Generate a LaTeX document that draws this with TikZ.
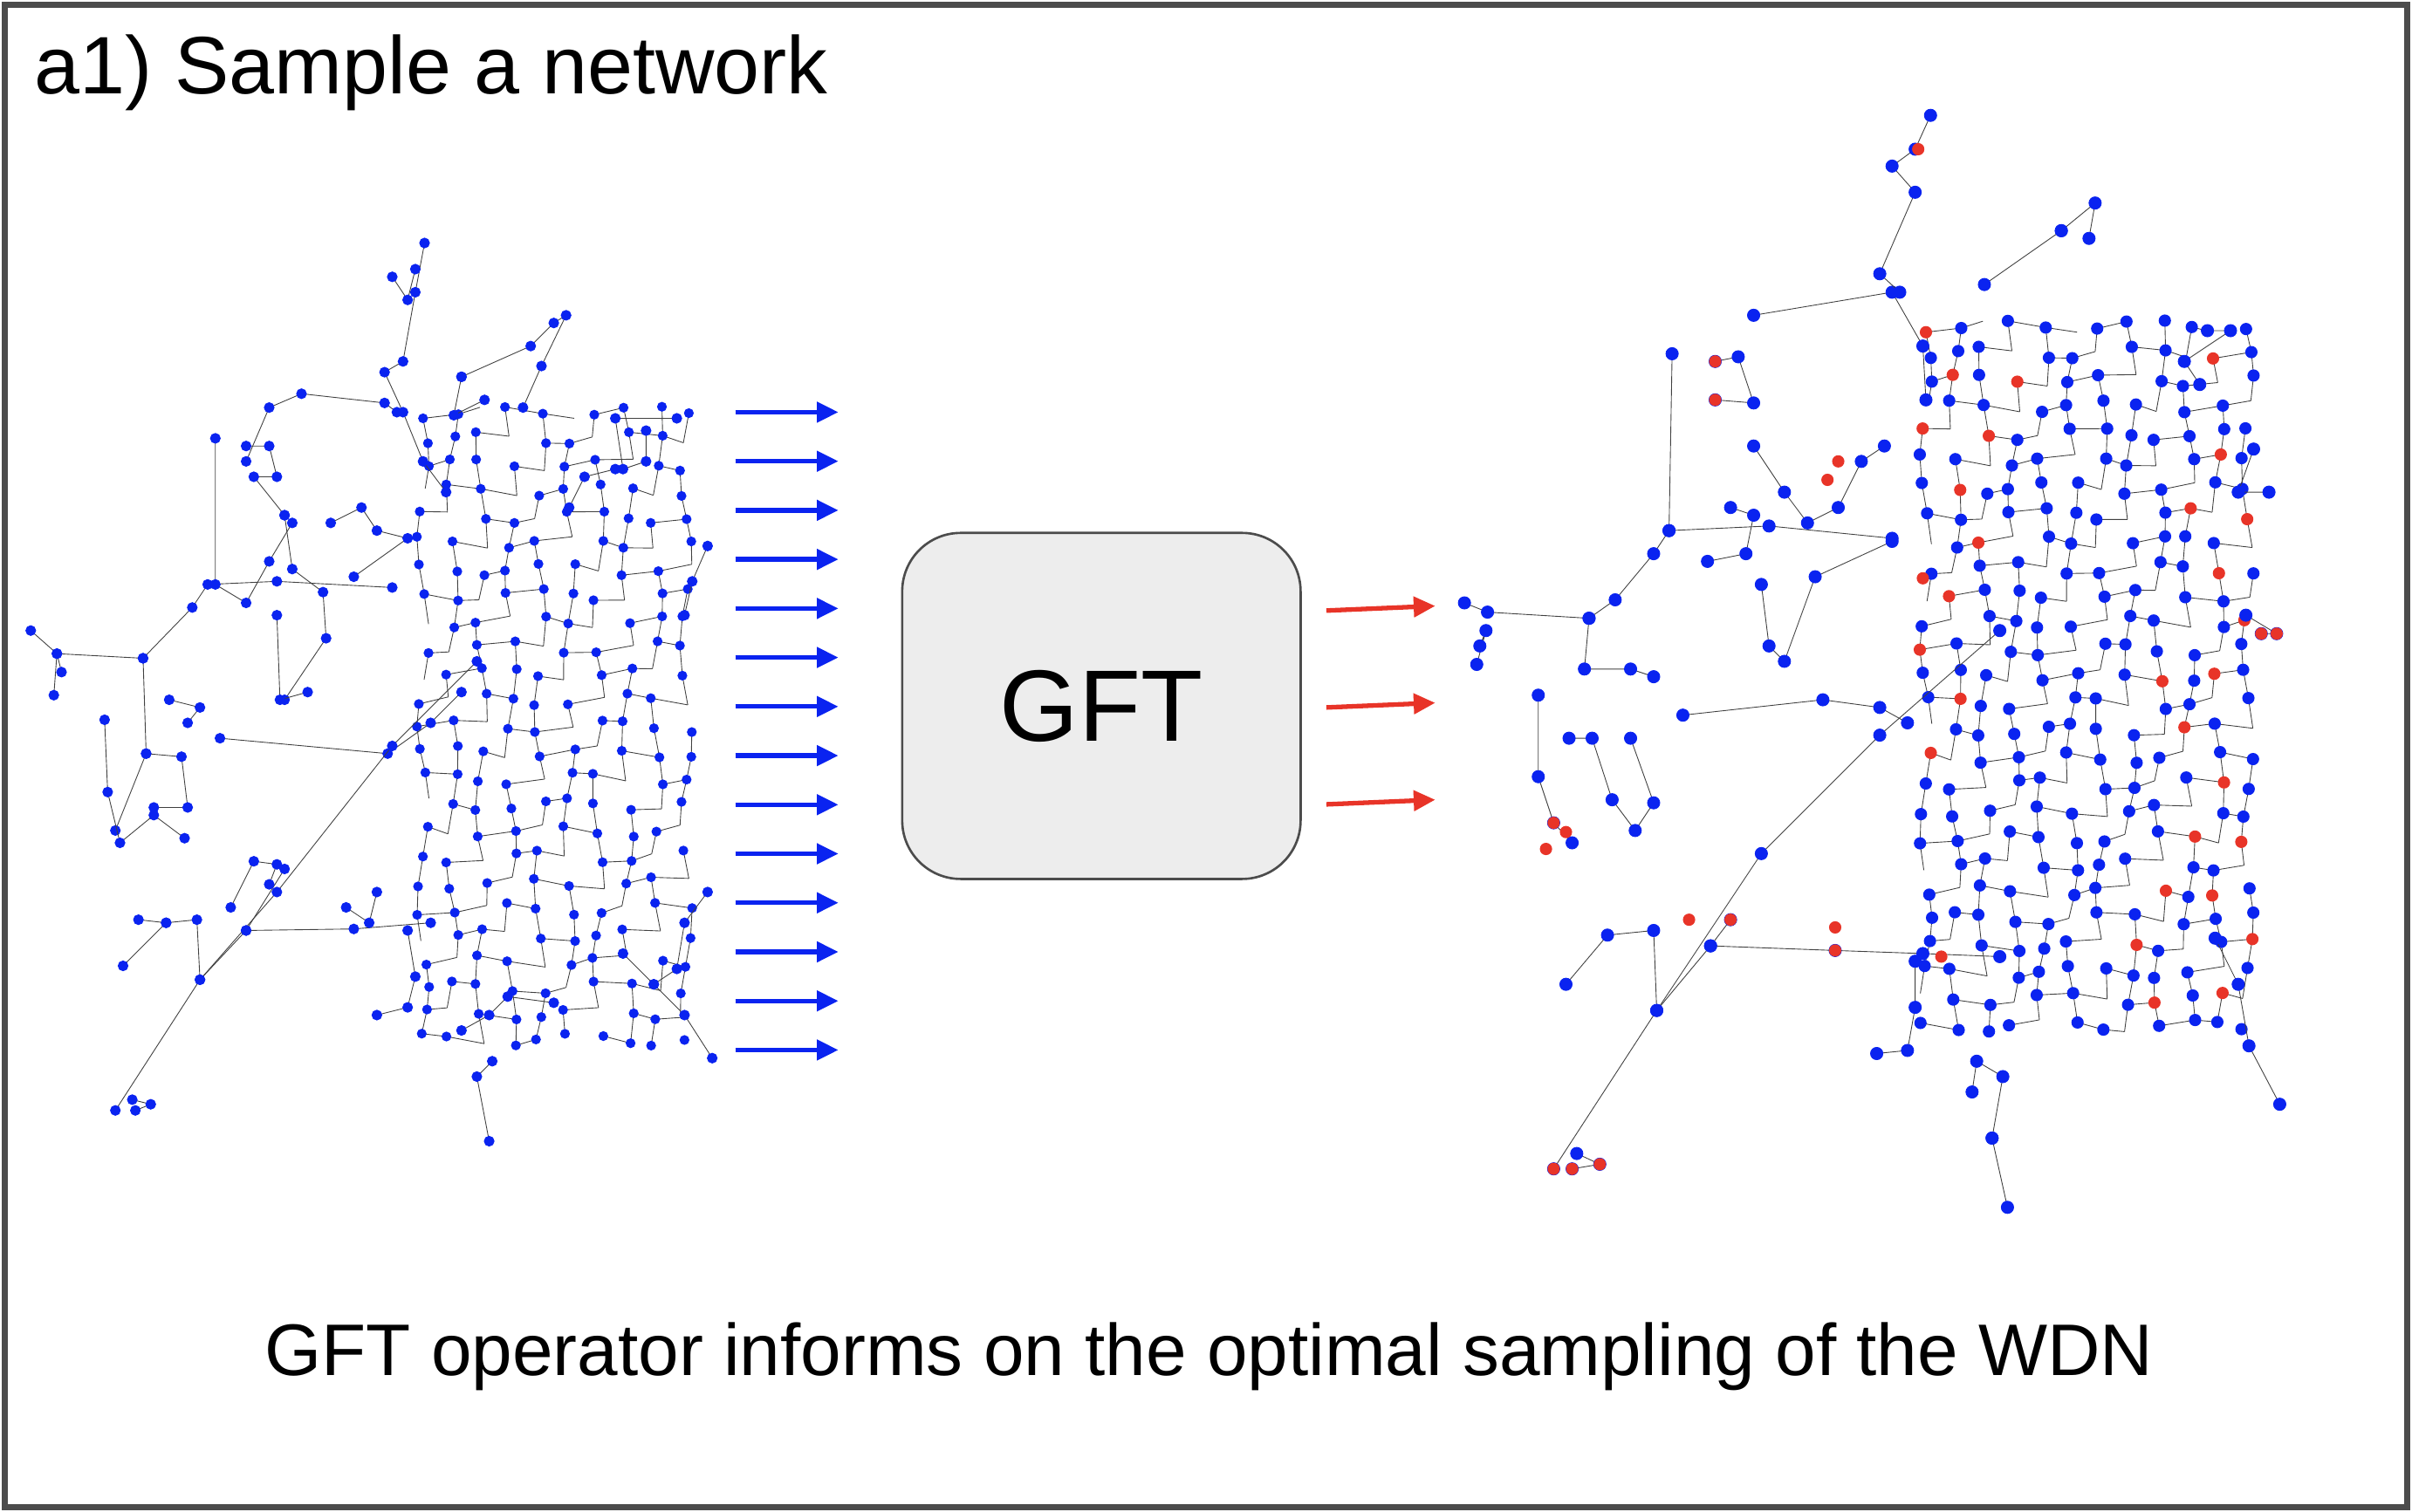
\documentclass[tikz,border=0pt]{standalone}
\usepackage{fontspec}
\setmainfont{Liberation Sans}
\usetikzlibrary{arrows.meta}

\definecolor{netblue}{RGB}{10,35,240}
\definecolor{netred}{RGB}{232,52,40}

\tikzset{
  frame/.style = {draw=black!70, line width=4pt},
  gftbox/.style = {draw=black!70, line width=1.5pt, fill=black!7, rounded corners=38pt,
                   minimum width=259pt, minimum height=225pt, font=\fontsize{66}{70}\selectfont},
  wire/.style = {draw=black!75, line width=0.5pt},
  lnode/.style = {mark=*, mark size=3.2pt, mark options={draw=netblue, fill=netblue}},
  rnode/.style = {mark=*, mark size=4pt, mark options={draw=netblue, fill=netblue}},
  bluearr/.style = {draw=netblue, line width=3pt, -{Triangle[length=14pt,width=13pt]}},
  redarr/.style = {draw=netred, line width=3pt, -{Triangle[length=14pt,width=13pt]}}
}

\begin{document}
\begin{tikzpicture}[x=1pt, y=-1pt]
\useasboundingbox (0,0) rectangle (1568,983);
\draw[frame] (3,3) rectangle (1565,980);

% titles
\node[anchor=west, font=\fontsize{53}{57}\selectfont] (title) at (19,47) {a1) Sample a network};
\node[font=\fontsize{47.5}{52}\selectfont] (caption) at (786,882) {GFT operator informs on the optimal sampling of the WDN};

% operator
\node[gftbox] (gft) at (716,459) {GFT};

% input arrows
\foreach \k in {0,...,13}
  \draw[bluearr] (478,{268+31.9*\k}) coordinate (in\k) -- ++(67,0);
% output arrows
\foreach \y [count=\k] in {397,460,523} {
  \coordinate (out\k) at (933,{\y-3});
  \draw[redarr] (gft.east |- 0,\y) ++(16,0) -- (out\k);
}

% left network, dense core
\foreach \i in {0,...,9}
  \foreach \j in {0,...,24} {
    \pgfmathsetmacro\xa{275+19*\i+4*sin(97*\i+53*\j)}
    \pgfmathsetmacro\ya{268+17*\j+4*cos(71*\i+37*\j)}
    \pgfmathsetmacro\xb{275+19*(\i+1)+4*sin(97*(\i+1)+53*\j)}
    \pgfmathsetmacro\yb{268+17*\j+4*cos(71*(\i+1)+37*\j)}
    \pgfmathsetmacro\xc{275+19*\i+4*sin(97*\i+53*(\j+1))}
    \pgfmathsetmacro\yc{268+17*(\j+1)+4*cos(71*\i+37*(\j+1))}
    \pgfmathsetmacro\keep{sin(131*\i+211*\j)}
    \ifdim\keep pt>-0.7pt
      \ifnum\i<9 \ifdim\keep pt>-0.1pt \draw[wire] (\xa,\ya) -- (\xb,\yb); \fi\fi
      \ifnum\j<24 \draw[wire] (\xa,\ya) -- (\xc,\yc); \fi
      \fill[netblue] (\xa,\ya) circle (3.2pt);
    \fi
  }
% left network, branches
\draw[wire] plot[lnode] coordinates {(20,410) (37,425) (93,428) (95,490) (75,540)};
\draw[wire] plot[lnode] coordinates {(35,452) (37,425) (40,437)};
\draw[wire] plot[lnode] coordinates {(68,468) (70,515) (78,548) (100,530) (120,545)};
\draw[wire] plot[lnode] coordinates {(95,490) (118,492) (122,525) (100,525)};
\draw[wire] plot[lnode] coordinates {(93,428) (125,395) (135,380) (180,378) (255,382)};
\draw[wire] plot[lnode] coordinates {(140,285) (140,380) (160,392) (175,365) (190,340)};
\draw[wire] plot[lnode] coordinates {(160,290) (175,290) (180,310) (165,310) (185,335)};
\draw[wire] plot[lnode] coordinates {(160,300) (175,265) (196,256) (250,262) (258,268)};
\draw[wire] plot[lnode] coordinates {(185,335) (190,370) (210,385) (212,415) (185,455)};
\draw[wire] plot[lnode] coordinates {(180,400) (182,455) (200,450)};
\draw[wire] plot[lnode] coordinates {(215,340) (235,330) (245,345) (265,350) (230,375)};
\draw[wire] plot[lnode] coordinates {(110,455) (130,460) (122,470)};
\draw[wire] plot[lnode] coordinates {(143,480) (252,490) (280,470) (300,450)};
\draw[wire] plot[lnode] coordinates {(80,628) (108,600) (128,598) (130,637) (160,605) (185,565)};
\draw[wire] plot[lnode] coordinates {(90,598) (108,600)};
\draw[wire] plot[lnode] coordinates {(75,722) (130,637) (180,580) (255,485) (310,430)};
\draw[wire] plot[lnode] coordinates {(86,715) (98,718) (88,722)};
\draw[wire] plot[lnode] coordinates {(160,605) (230,604) (280,600)};
\draw[wire] plot[lnode] coordinates {(150,590) (165,560) (180,562) (175,575)};
\draw[wire] plot[lnode] coordinates {(276,158) (270,190) (262,235) (250,242) (262,268) (275,300) (290,320)};
\draw[wire] plot[lnode] coordinates {(255,180) (265,195) (270,175)};
\draw[wire] plot[lnode] coordinates {(300,245) (345,225) (360,210) (368,205) (352,238) (340,265)};
\draw[wire] plot[lnode] coordinates {(300,245) (295,270) (315,260)};
\draw[wire] plot[lnode] coordinates {(440,272) (400,272) (405,305) (420,300) (420,280)};
\draw[wire] plot[lnode] coordinates {(400,305) (380,310) (370,330)};
\draw[wire] plot[lnode] coordinates {(425,640) (445,660) (463,688)};
\draw[wire] plot[lnode] coordinates {(460,580) (445,600) (440,630) (425,640) (405,620)};
\draw[wire] plot[lnode] coordinates {(460,355) (450,378) (445,400)};
\draw[wire] plot[lnode] coordinates {(320,690) (310,700) (318,742)};
\draw[wire] plot[lnode] coordinates {(300,670) (318,660) (330,648) (360,652)};
\draw[wire] plot[lnode] coordinates {(245,660) (265,655) (270,635) (265,605)};
\draw[wire] plot[lnode] coordinates {(245,580) (240,600) (225,590)};

% right network, dense core
\foreach \i in {0,...,11}
  \foreach \j in {0,...,26} {
    \pgfmathsetmacro\xa{1252+19*\i+4*sin(97*\i+53*\j)}
    \pgfmathsetmacro\ya{212+17.5*\j+4*cos(71*\i+37*\j)}
    \pgfmathsetmacro\xb{1252+19*(\i+1)+4*sin(97*(\i+1)+53*\j)}
    \pgfmathsetmacro\yb{212+17.5*\j+4*cos(71*(\i+1)+37*\j)}
    \pgfmathsetmacro\xc{1252+19*\i+4*sin(97*\i+53*(\j+1))}
    \pgfmathsetmacro\yc{212+17.5*(\j+1)+4*cos(71*\i+37*(\j+1))}
    \pgfmathsetmacro\keep{sin(131*\i+211*\j)}
    \pgfmathsetmacro\pick{cos(173*\i+89*\j)}
    \ifdim\keep pt>-0.7pt
      \ifnum\i<11 \ifdim\keep pt>-0.1pt \draw[wire] (\xa,\ya) -- (\xb,\yb); \fi\fi
      \ifnum\j<26 \draw[wire] (\xa,\ya) -- (\xc,\yc); \fi
      \ifdim\pick pt>0.92pt
        \fill[netred] (\xa,\ya) circle (4pt);
      \else
        \fill[netblue] (\xa,\ya) circle (4pt);
      \fi
    \fi
  }
% right network, branches
\draw[wire] plot[rnode] coordinates {(952,392) (967,398) (1033,402) (1050,390) (1075,360) (1085,345) (1150,342) (1230,350)};
\draw[wire] plot[rnode] coordinates {(960,432) (966,410) (962,420)};
\draw[wire] plot[rnode] coordinates {(1000,452) (1000,505) (1010,535) (1022,548)};
\draw[wire] plot[rnode] coordinates {(1033,402) (1030,435) (1060,435) (1075,440)};
\draw[wire] plot[rnode] coordinates {(1020,480) (1035,480) (1048,520) (1063,540) (1075,522) (1060,480)};
\draw[wire] plot[rnode] coordinates {(1094,465) (1185,455) (1222,460) (1240,470)};
\draw[wire] plot[rnode] coordinates {(1087,230) (1085,345)};
\draw[wire] plot[rnode] coordinates {(1115,235) (1130,232) (1140,262) (1115,260)};
\draw[wire] plot[rnode] coordinates {(1140,205) (1230,190) (1250,225) (1252,260)};
\draw[wire] plot[rnode] coordinates {(1140,290) (1160,320) (1175,340) (1195,330) (1210,300) (1225,290)};
\draw[wire] plot[rnode] coordinates {(1125,330) (1140,335) (1135,360) (1110,365)};
\draw[wire] plot[rnode] coordinates {(1145,380) (1150,420) (1160,430) (1180,375) (1230,352)};
\draw[wire] plot[rnode] coordinates {(1255,75) (1245,97) (1230,108) (1245,125) (1222,178) (1235,190)};
\draw[wire] plot[rnode] coordinates {(1340,150) (1362,132) (1358,155)};
\draw[wire] plot[rnode] coordinates {(1290,185) (1340,150)};
\draw[wire] plot[rnode] coordinates {(1018,640) (1045,608) (1075,605) (1077,657) (1112,615) (1125,598)};
\draw[wire] plot[rnode] coordinates {(1010,760) (1077,657) (1145,555) (1222,478) (1300,410)};
\draw[wire] plot[rnode] coordinates {(1025,750) (1040,757) (1022,760)};
\draw[wire] plot[rnode] coordinates {(1112,615) (1193,618) (1250,620) (1300,622)};
\draw[wire] plot[rnode] coordinates {(1220,685) (1240,683) (1245,655) (1245,625)};
\draw[wire] plot[rnode] coordinates {(1295,740) (1302,700) (1285,690) (1282,710)};
\draw[wire] plot[rnode] coordinates {(1295,740) (1305,785)};
\draw[wire] plot[rnode] coordinates {(1440,610) (1455,640) (1462,680) (1482,718)};
\draw[wire] plot[rnode] coordinates {(1465,292) (1455,320) (1475,320)};
\draw[wire] plot[rnode] coordinates {(1435,215) (1450,215) (1420,235) (1430,250)};
\draw[wire] plot[rnode] coordinates {(1470,412) (1480,412) (1460,400)};
\fill[netred] (1247,97) circle (4pt) (1115,260) circle (4pt) (1115,235) circle (4pt)
  (1195,300) circle (4pt) (1188,312) circle (4pt) (1010,535) circle (4pt) (1018,541) circle (4pt)
  (1005,552) circle (4pt) (1098,598) circle (4pt) (1125,598) circle (4pt) (1193,618) circle (4pt)
  (1193,603) circle (4pt) (1262,622) circle (4pt) (1010,760) circle (4pt) (1022,760) circle (4pt)
  (1040,757) circle (4pt) (1480,412) circle (4pt) (1470,412) circle (4pt) (1250,376) circle (4pt);
\end{tikzpicture}
\end{document}
